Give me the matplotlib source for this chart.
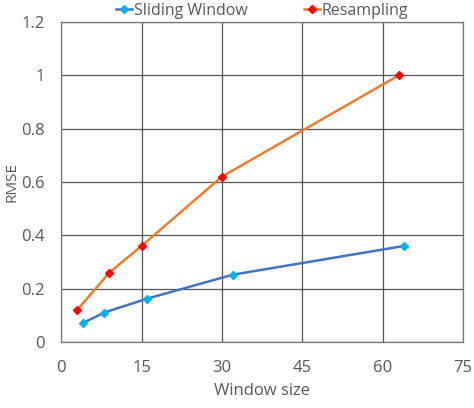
import matplotlib
matplotlib.use("Agg")
import matplotlib.pyplot as plt

# datos
win_sliding = [4, 8, 16, 32, 64]
rmse_sliding = [0.07, 0.11, 0.162, 0.252, 0.36]
win_resamp = [3, 9, 15, 30, 63]
rmse_resamp = [0.12, 0.26, 0.36, 0.62, 1.0]

plt.rcParams['font.family'] = ['Open Sans', 'DejaVu Sans']

fig = plt.figure(figsize=(4.74, 4.08), dpi=100)
ax = fig.add_axes([0.129, 0.162, 0.848, 0.784])

ax.plot(win_sliding, rmse_sliding, color="#4472C4", linewidth=1.8,
        marker="D", markersize=4.5, markerfacecolor="#00B0F0",
        markeredgecolor="#00B0F0", label="Sliding Window")
ax.plot(win_resamp, rmse_resamp, color="#ED7D31", linewidth=1.8,
        marker="D", markersize=4.5, markerfacecolor="#FF0000",
        markeredgecolor="#FF0000", label="Resampling")

ax.set_xlim(0, 75)
ax.set_ylim(0, 1.2)
ax.set_xticks([0, 15, 30, 45, 60, 75])
ax.set_yticks([0, 0.2, 0.4, 0.6, 0.8, 1.0, 1.2])
ax.set_yticklabels(["0", "0.2", "0.4", "0.6", "0.8", "1", "1.2"])
ax.tick_params(length=0, labelsize=12, labelcolor="#595959")
ax.tick_params(axis="y", pad=12)
ax.tick_params(axis="x", pad=13)
ax.grid(color="#555555", linewidth=0.9)
for s in ax.spines.values():
    s.set_color("#777777")
    s.set_linewidth(0.9)

ax.set_xlabel("Window size", fontsize=12, color="#595959", labelpad=5)
ax.set_ylabel("RMSE", fontsize=11, color="#595959")
ax.yaxis.set_label_coords(-0.104, 0.5)

ax.legend(loc="lower center", bbox_to_anchor=(0.5, 0.99), ncol=2, frameon=False,
          fontsize=11.5, handlelength=1.0, handletextpad=0.1, columnspacing=3.5,
          labelcolor="#595959", borderaxespad=0)

fig.savefig("out.png", dpi=100)
